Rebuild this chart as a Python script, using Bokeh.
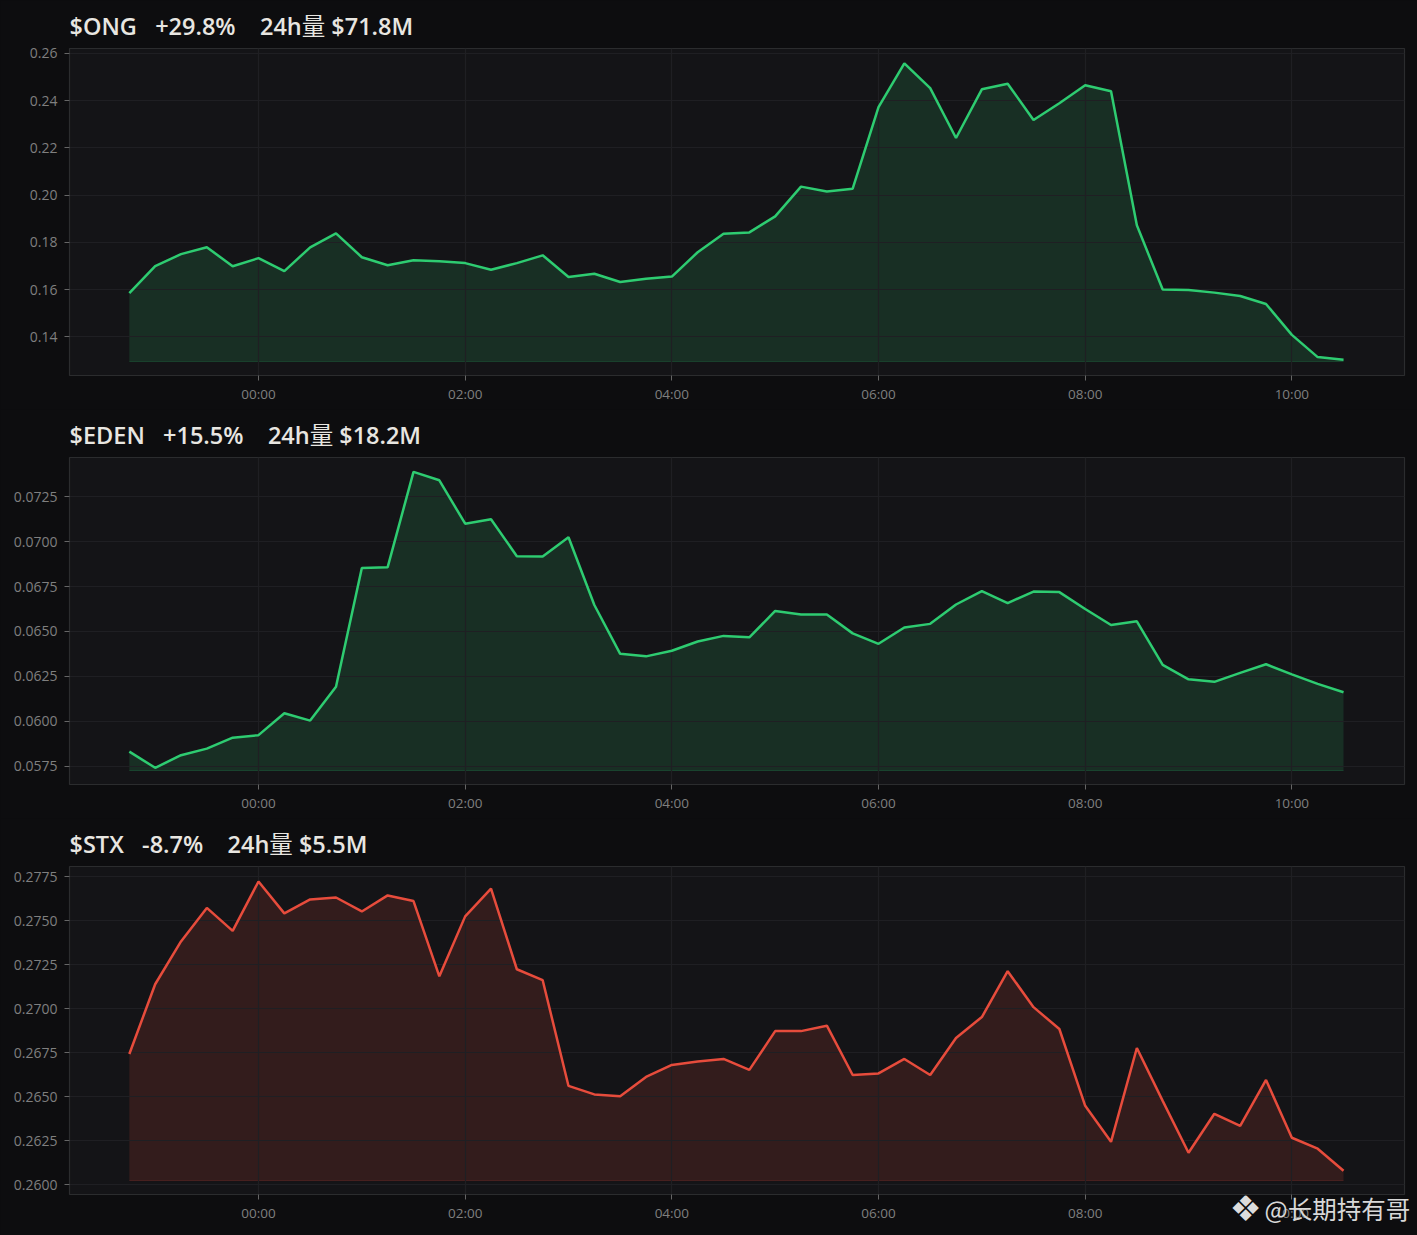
from bokeh.plotting import figure
from bokeh.layouts import column
from bokeh.models import Range1d, FixedTicker, Label
from bokeh.embed import file_html
from bokeh.resources import INLINE

hours = [-1.25 + 0.25 * i for i in range(48)]

ong = [0.1585,0.1699,0.1750,0.1779,0.1699,0.1733,0.1678,0.1779,0.1838,0.1737,0.1703,0.1724,
       0.1720,0.1712,0.1684,0.1712,0.1745,0.1653,0.1667,0.1632,0.1646,0.1655,0.1758,0.1836,
       0.1842,0.1910,0.2036,0.2015,0.2027,0.2373,0.2558,0.2453,0.2242,0.2448,0.2472,0.2318,
       0.2389,0.2465,0.2440,0.1872,0.1600,0.1598,0.1587,0.1573,0.1539,0.1408,0.1314,0.1303]
eden = [0.0583,0.0574,0.0581,0.05847,0.05908,0.05922,0.06044,0.06003,0.06192,0.06853,0.06858,0.07389,
        0.07342,0.0710,0.07125,0.06919,0.06917,0.07025,0.06647,0.06375,0.06361,0.06392,0.06444,0.06475,
        0.06467,0.06614,0.06594,0.06594,0.06489,0.06431,0.06522,0.06542,0.0665,0.06725,0.06658,0.06722,
        0.06719,0.06625,0.06536,0.06556,0.06314,0.06233,0.06219,0.06269,0.06317,0.06261,0.06208,0.06161]
stx = [0.26743,0.27139,0.27382,0.27572,0.27442,0.27722,0.27541,0.2762,0.27631,0.27552,0.27643,0.27611,
       0.27184,0.27524,0.27682,0.27224,0.27162,0.26562,0.26514,0.26503,0.26613,0.26681,0.26701,0.26715,
       0.26653,0.26873,0.26873,0.26904,0.26624,0.26633,0.26715,0.26624,0.26834,0.26953,0.27213,0.27009,
       0.26885,0.26449,0.26245,0.26777,0.26477,0.26183,0.26404,0.26336,0.26596,0.26268,0.26206,0.26081]

NB = "\u00a0"
titles = [f"$ONG{NB*3}+29.8%{NB*4}24h量 $71.8M", f"$EDEN{NB*3}+15.5%{NB*4}24h量 $18.2M", f"$STX{NB*3}-8.7%{NB*4}24h量 $5.5M"]
x_tick_hours = [0, 2, 4, 6, 8, 10]
x_tick_labels = ["00:00", "02:00", "04:00", "06:00", "08:00", "10:00"]
y_ticks_ong = [0.14, 0.16, 0.18, 0.20, 0.22, 0.24, 0.26]
y_ticks_eden = [0.0575, 0.0600, 0.0625, 0.0650, 0.0675, 0.0700, 0.0725]
y_ticks_stx = [0.2600, 0.2625, 0.2650, 0.2675, 0.2700, 0.2725, 0.2750, 0.2775]

BG = "#0d0d0f"
PANEL = "#141417"
GREEN = "#2ecc71"
RED = "#e74c3c"


def panel(title, values, color, base, ylim, yticks, fmt, height, top, bottom):
    p = figure(width=1417, height=height, output_backend="svg", toolbar_location=None,
               x_range=Range1d(-1.829, 11.09), y_range=Range1d(*ylim),
               min_border_left=69, min_border_right=13, min_border_top=top, min_border_bottom=bottom,
               background_fill_color=PANEL, border_fill_color=BG,
               outline_line_color="#2b2c2e", outline_line_width=1.2)
    p.title.text = title
    p.title.text_font = "Open Sans SemiBold, Open Sans, Noto Sans CJK SC"
    p.title.text_font_size = "23.5px"
    p.title.text_font_style = "normal"
    p.title.text_color = "#e8e6e1"
    p.title.align = "left"
    p.title.standoff = 14

    p.varea(hours, [base] * len(hours), values, fill_color=color, fill_alpha=0.15, level="underlay")
    p.line([hours[0], hours[-1]], [base, base], line_color=color, line_alpha=0.2, line_width=1, level="underlay")
    p.line(hours, values, line_color=color, line_width=2.5, level="annotation")

    p.xaxis.ticker = FixedTicker(ticks=x_tick_hours)
    p.xaxis.major_label_overrides = dict(zip(x_tick_hours, x_tick_labels))
    p.yaxis.ticker = FixedTicker(ticks=yticks)
    p.yaxis.major_label_overrides = {t: fmt % t for t in yticks}
    for ax in (p.xaxis, p.yaxis):
        ax.axis_line_color = None
        ax.major_tick_line_color = "#666666"
        ax.major_tick_in = 0
        ax.major_tick_out = 5
        ax.minor_tick_line_color = None
        ax.major_label_text_color = "#7f7f7f"
        ax.major_label_text_font = "Open Sans"
        ax.major_label_text_font_size = "13.5px"
    p.yaxis.major_label_text_font_size = "14px"
    p.xaxis.major_label_standoff = 4
    p.yaxis.major_label_standoff = 7
    p.grid.grid_line_color = "#1f1f23"
    p.grid.grid_line_width = 1.2
    p.grid.level = "glyph"
    return p


p1 = panel(titles[0], ong, GREEN, 0.1295, (0.1236, 0.2621), y_ticks_ong, "%.2f", 409, 46, 34)
p2 = panel(titles[1], eden, GREEN, 0.05725, (0.05647, 0.07469), y_ticks_eden, "%.4f", 409, 47, 34)
p3 = panel(titles[2], stx, RED, 0.26025, (0.25946, 0.27807), y_ticks_stx, "%.4f", 417, 47, 41)

mark = figure(width=270, height=40, output_backend="svg", toolbar_location=None,
              x_range=Range1d(0, 1), y_range=Range1d(0, 1), min_border=0,
              background_fill_alpha=0, border_fill_alpha=0, outline_line_color=None,
              x_axis_location=None, y_axis_location=None,
              margin=(-40, 0, 0, 1160))
mark.grid.visible = False
mark.add_layout(Label(x=0, y=7, x_units="screen", y_units="screen", text="❖",
                      text_font="DejaVu Sans", text_font_size="36px", text_color="#dddddd"))
mark.add_layout(Label(x=35, y=10, x_units="screen", y_units="screen", text="@长期持有哥",
                      text_font="Noto Sans CJK SC", text_font_size="24.5px", text_color="#d8d8d8"))

html = file_html(column(p1, p2, p3, mark, spacing=0), INLINE)
html = html.replace("</head>", "<style>html,body{background:%s !important;margin:0 !important;overflow:hidden}</style></head>" % BG, 1)
open("out.html", "w").write(html)
